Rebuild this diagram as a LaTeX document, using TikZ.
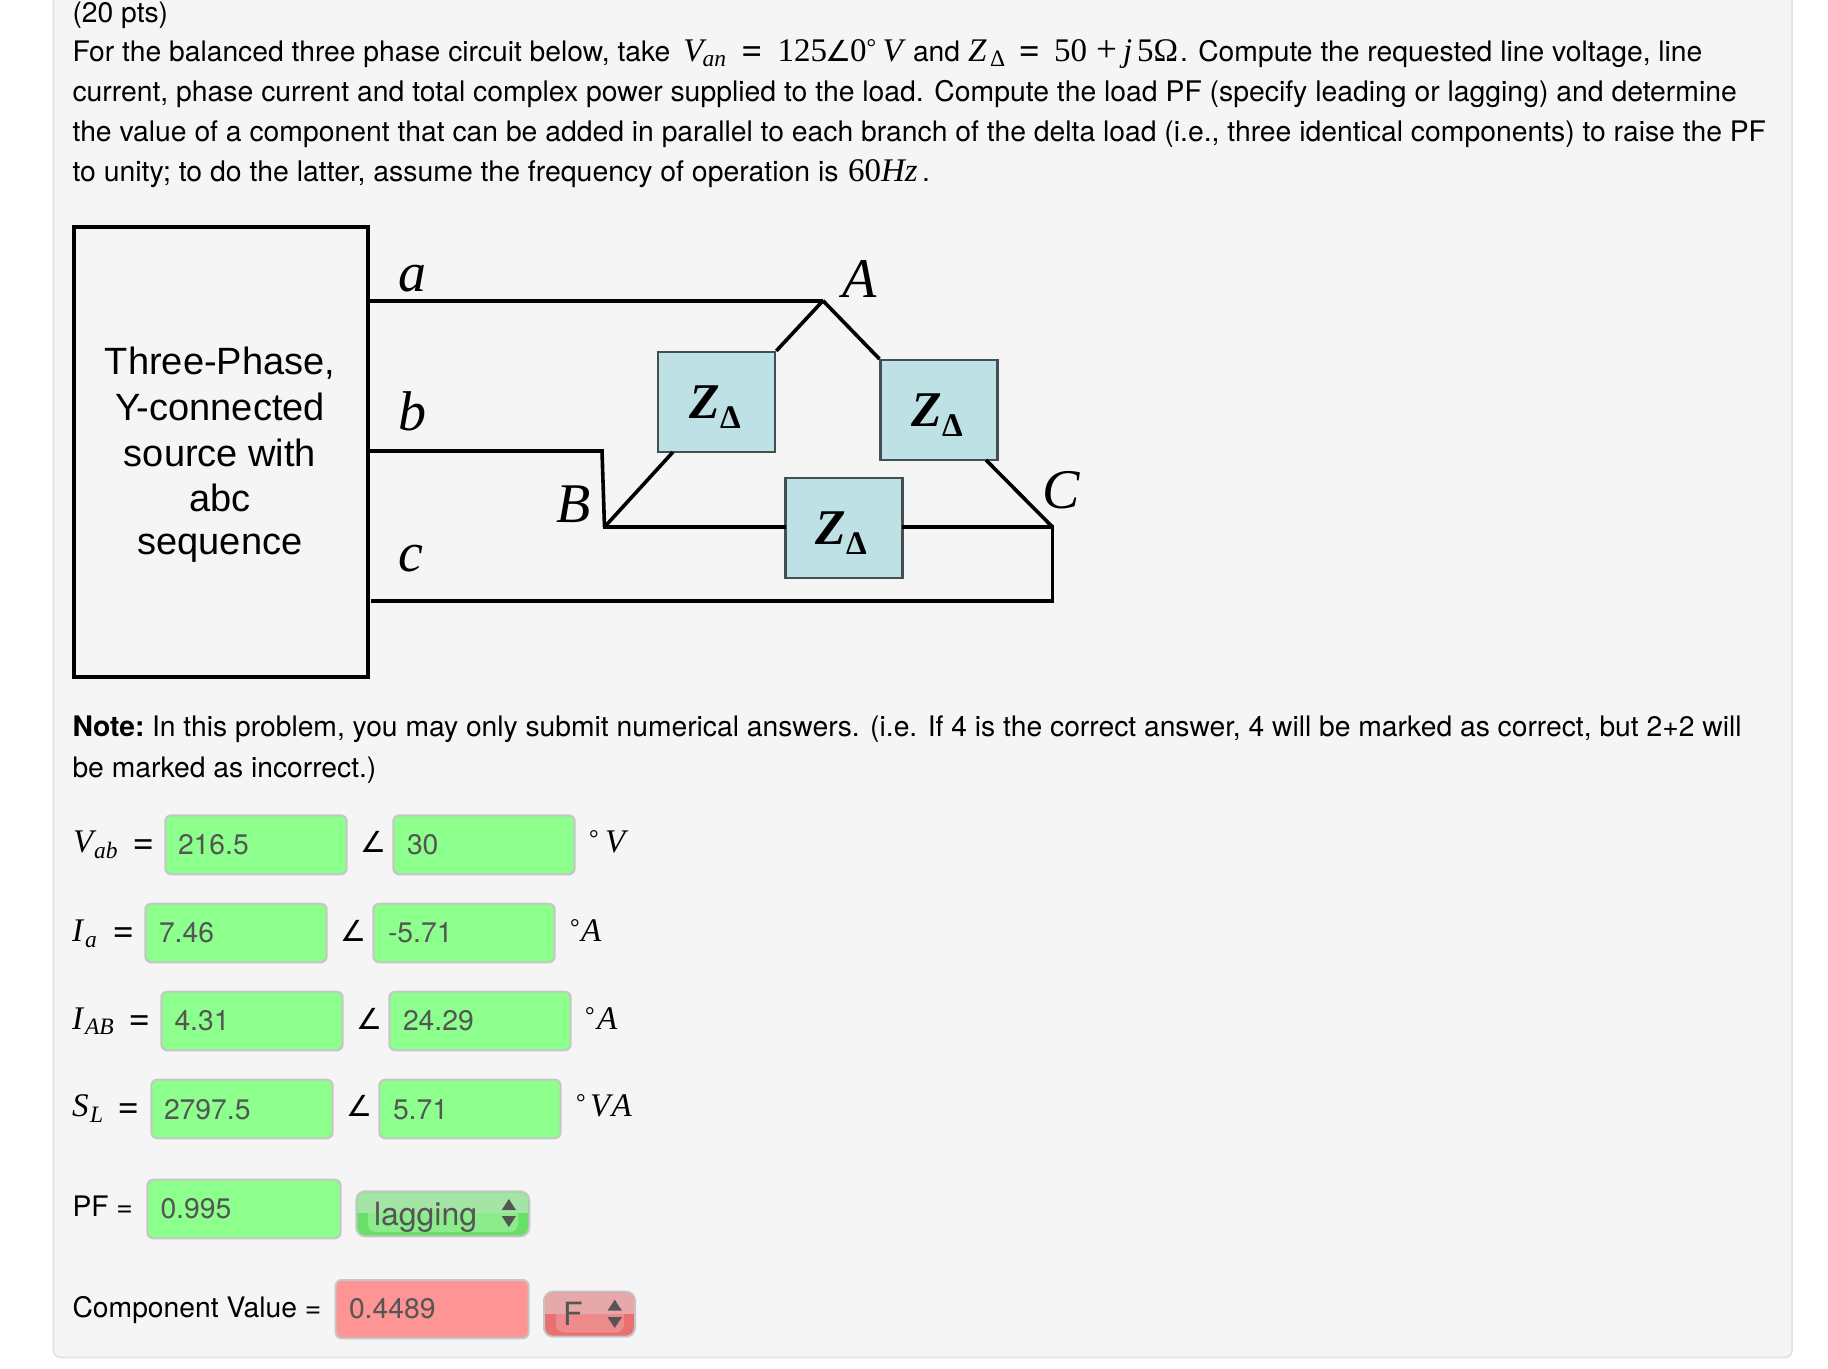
\documentclass[tikz,border=0pt]{standalone}
\usepackage{fontspec}
\setmainfont{TeX Gyre Heros}
\newfontfamily\libf{Liberation Sans}
\newfontfamily\mff{Liberation Serif}
\newfontfamily\djf{DejaVu Sans}
\newcommand\fs[1]{\fontsize{#1}{#1}\selectfont}
\definecolor{panelbg}{HTML}{F5F5F5}
\definecolor{panelln}{HTML}{E2E2E2}
\definecolor{okgreen}{HTML}{8CFF8C}
\definecolor{badred}{HTML}{FF9494}
\definecolor{inln}{HTML}{C6C6C6}
\definecolor{inkgrey}{HTML}{555555}
\definecolor{zfill}{HTML}{BDE1E5}
\definecolor{grnlow}{HTML}{68E068}
\definecolor{grntop}{HTML}{A4E4A4}
\definecolor{grnin}{HTML}{8CEC8C}
\definecolor{redlow}{HTML}{E87070}
\definecolor{redtop}{HTML}{E6A8A8}
\definecolor{redin}{HTML}{EE8C8C}
\tikzset{
 lbl/.style={anchor=base west,inner sep=0pt,outer sep=0pt},
 body/.style={lbl,font=\fs{28.25}},
 mvar/.style={lbl,font=\mff\itshape\fs{33}},
 msub/.style={lbl,font=\mff\itshape\fs{23.5}},
 mrm/.style={lbl,font=\mff\fs{33}},
 meq/.style={lbl,font=\mff\bfseries\fs{36}},
 mdeg/.style={lbl,font=\mff\fs{24}},
 ang/.style={lbl,font=\djf\fs{29}},
 inp/.style={rounded corners=6pt,draw=inln,line width=2pt},
 val/.style={lbl,font=\fs{28.3},text=inkgrey},
 wire/.style={line width=3.6pt,line join=miter,black},
 zbox/.style={draw=black!65!zfill,fill=zfill,line width=2.2pt,minimum width=117pt,minimum height=100pt,inner sep=0pt},
 zlet/.style={lbl,font=\mff\itshape\bfseries\fs{50}},
 zsub/.style={lbl,font=\mff\bfseries\fs{33}},
 wlet/.style={lbl,font=\mff\itshape\fs{56}},
 srcl/.style={inner sep=0pt,anchor=base,font=\libf\fs{38}},
 tri/.style={fill=inkgrey,draw=none},
}
\begin{document}
\begin{tikzpicture}[x=1pt,y=-1pt]
\useasboundingbox (0,0) rectangle (1828,1368);
\fill[white] (0,0) rectangle (1828,1368);
% panel
\filldraw[fill=panelbg,draw=panelln,line width=1.6pt,rounded corners=7pt]
  (53.5,0) -- (53.5,1357.5) -- (1792,1357.5) -- (1792,0);

% text
\node[body] (t0) at (72.5,22) {(20 pts)};
\node[body] (t1a) at (72.5,61.7) {For the balanced three phase circuit below, take};
\node[mvar] (v1) at (683.3,61.7) {V};
\node[msub] (v1s) at (702.7,66) {an};
\node[meq] (e1) at (741.5,63.5) {=};
\node[mrm] (n125) at (777.7,61.7) {125};
\node[ang] (a1) at (825,61.7) {∠};
\node[mrm] (n0) at (850,61.7) {0};
\node[mdeg] (d1) at (866.5,55.5) {°};
\node[mvar] (v2) at (882.7,61.7) {V};
\node[body] (t1b) at (913,61.7) {and};
\node[mvar] (z1t) at (968,61.7) {Z};
\node[lbl,font=\mff\fs{23.5}] (z1s) at (990,66) {Δ};
\node[meq] (e2) at (1019,63.5) {=};
\node[mrm] (n50) at (1054,61.7) {50};
\node[mrm,font=\mff\fs{37}] (np) at (1096,61.7) {+};
\node[mvar] (nj) at (1123,61.7) {j};
\node[mrm] (n5o) at (1137,61.7) {5Ω};
\node[body] (t1c) at (1180,61.7) {. Compute the requested line voltage, line};
\node[body,font=\fs{28.35}] (t2) at (72.5,101.6) {current, phase current and total complex power supplied to the load. Compute the load PF (specify leading or lagging) and determine};
\node[body,font=\fs{28.3}] (t3) at (72.5,141.5) {the value of a component that can be added in parallel to each branch of the delta load (i.e., three identical components) to raise the PF};
\node[body,font=\fs{28.4}] (t4a) at (72.5,181.4) {to unity; to do the latter, assume the frequency of operation is};
\node[mrm] (n60) at (848,181.4) {60};
\node[mvar] (hz) at (881,181.4) {Hz};
\node[body] (t4b) at (922,181.4) {.};

% source box
\draw[line width=4pt,black] (74,227) rectangle (368,677);
\coordinate (srcA) at (368,300.7);
\coordinate (srcB) at (368,451);
\coordinate (srcC) at (371,601);
\node[srcl] (s1) at (220,374) {Three-Phase,};
\node[srcl] (s2) at (220,420.5) {Y-connected};
\node[srcl] (s3) at (220,466) {source with};
\node[srcl] (s4) at (220,511) {abc};
\node[srcl] (s5) at (220,554) {sequence};

% junctions
\coordinate (jA) at (823,300.7);
\coordinate (jbend) at (602,451);
\coordinate (jB) at (604.5,527);
\coordinate (jC) at (1052.5,527);
\coordinate (jCc) at (1052.5,601);

% load
\node[zbox] (Z1) at (716.7,402) {};
\node[zbox] (Z2) at (939,410) {};
\node[zbox] (Z3) at (844,528) {};
\coordinate (Z1b) at (673,452);
\coordinate (Z2b) at (986,460);

\draw[wire] (srcA) -- (jA);
\draw[wire] (srcB) -- (jbend) -- (jB);
\draw[wire] (srcC) -- (jCc) -- (jC);
\draw[wire] (jA) -- (Z1.north east);
\draw[wire] (jA) -- (Z2.north west);
\draw[wire] (Z1b) -- (jB);
\draw[wire] (Z2b) -- (jC);
\draw[wire,line cap=rect] (jB) -- (Z3.west |- jB);
\draw[wire,line cap=rect] (Z3.east |- jC) -- (jC);

\node[zlet] (lz1) at (689,418) {Z};
\node[zsub] (lz1s) at (720,428) {Δ};
\node[zlet] (lz2) at (911,426.7) {Z};
\node[zsub] (lz2s) at (942,436.7) {Δ};
\node[zlet] (lz3) at (815,544) {Z};
\node[zsub] (lz3s) at (846,554) {Δ};

\node[wlet] (la) at (398,291) {a};
\node[wlet] (lb) at (398,430) {b};
\node[wlet] (lc) at (398,571) {c};
\node[wlet] (lA) at (842,297) {A};
\node[wlet] (lB) at (556,522.7) {B};
\node[wlet] (lC) at (1042,508) {C};

% note
\node[lbl,font=\bfseries\fs{28.25}] (nb) at (72.5,736.7) {Note:};
\node[body] (nt) at (152,736.7) {In this problem, you may only submit numerical answers. (i.e. If 4 is the correct answer, 4 will be marked as correct, but 2+2 will};
\node[body] (nt2) at (72.5,777.3) {be marked as incorrect.)};

% inputs
\filldraw[inp,fill=okgreen] (165.3,815.3) rectangle (346.7,874.3);
\filldraw[inp,fill=okgreen] (393.3,815.3) rectangle (574.7,874.3);
\filldraw[inp,fill=okgreen] (145.3,903.7) rectangle (326.7,962.3);
\filldraw[inp,fill=okgreen] (373.3,903.7) rectangle (554.7,962.3);
\filldraw[inp,fill=okgreen] (161.3,991.7) rectangle (342.7,1050.3);
\filldraw[inp,fill=okgreen] (389.3,991.7) rectangle (570.7,1050.3);
\filldraw[inp,fill=okgreen] (151.3,1079.7) rectangle (332.7,1138.3);
\filldraw[inp,fill=okgreen] (379.3,1079.7) rectangle (560.7,1138.3);
\filldraw[inp,fill=okgreen] (147.3,1179.7) rectangle (340.7,1238.3);
\filldraw[inp,fill=badred] (335.7,1280) rectangle (528.7,1338.3);

\node[val] (x1) at (178,854.3) {216.5};
\node[val] (x2) at (407,854.3) {30};
\node[val] (x3) at (159,942.3) {7.46};
\node[val] (x4) at (388,942.3) {-5.71};
\node[val] (x5) at (174.5,1030.7) {4.31};
\node[val] (x6) at (403,1030.7) {24.29};
\node[val] (x7) at (164,1119) {2797.5};
\node[val] (x8) at (393,1119) {5.71};
\node[val] (x9) at (160.5,1218) {0.995};
\node[val] (x10) at (349,1318.3) {0.4489};

% row labels
\node[mvar] (r1) at (73,852.7) {V};
\node[msub] (r1s) at (94,858) {ab};
\node[meq] (r1e) at (133,856) {=};
\node[ang] (r1a) at (360,852.7) {∠};
\node[mdeg] (r1d) at (589,846.5) {°};
\node[mvar] (r1u) at (605,852.7) {V};

\node[mvar] (r2) at (72,941) {I};
\node[msub] (r2s) at (85,947) {a};
\node[meq] (r2e) at (113,944.3) {=};
\node[ang] (r2a) at (340,941) {∠};
\node[mdeg] (r2d) at (570,935) {°};
\node[mvar] (r2u) at (581,941) {A};

\node[mvar] (r3) at (72,1029) {I};
\node[msub] (r3s) at (85,1034) {AB};
\node[meq] (r3e) at (129,1032.3) {=};
\node[ang] (r3a) at (356,1029) {∠};
\node[mdeg] (r3d) at (585,1023) {°};
\node[mvar] (r3u) at (597,1029) {A};

\node[mvar] (r4) at (72,1116.7) {S};
\node[msub] (r4s) at (90,1122) {L};
\node[meq] (r4e) at (118,1120) {=};
\node[ang] (r4a) at (346,1116.7) {∠};
\node[mdeg] (r4d) at (576,1110.7) {°};
\node[mvar] (r4u) at (590,1116.7) {V\kern1.5pt A};

\node[body] (pf) at (72.5,1216.5) {PF =};
\node[body] (cv) at (72.5,1317.5) {Component Value =};

% select: lagging
\filldraw[rounded corners=9pt,draw=inln,line width=2pt,fill=grnlow] (356.3,1191.3) rectangle (529.3,1236.3);
\begin{scope}
 \clip[rounded corners=8pt] (357.3,1192.3) rectangle (528.3,1235.3);
 \fill[grnin,rounded corners=8pt] (368,1200) rectangle (518,1232);
 \fill[grntop] (357,1192) rectangle (529,1213);
\end{scope}
\node[lbl,font=\fs{32},text=inkgrey] (sel1) at (374,1225) {lagging};
\fill[tri] (501.7,1210) -- (516,1210) -- (508.85,1199) -- cycle;
\fill[tri] (501.7,1216) -- (516,1216) -- (508.85,1227) -- cycle;

% select: F
\filldraw[rounded corners=9pt,draw=inln,line width=2pt,fill=redlow] (544,1291.7) rectangle (635,1336.7);
\begin{scope}
 \clip[rounded corners=8pt] (545,1292.7) rectangle (634,1335.7);
 \fill[redin,rounded corners=8pt] (556,1300) rectangle (624,1332.5);
 \fill[redtop] (544,1292) rectangle (635,1313.5);
\end{scope}
\node[lbl,font=\fs{32},text=inkgrey] (sel2) at (563,1325.4) {F};
\fill[tri] (607.5,1310.7) -- (622,1310.7) -- (614.75,1299.7) -- cycle;
\fill[tri] (607.5,1317) -- (622,1317) -- (614.75,1328) -- cycle;
\end{tikzpicture}
\end{document}
